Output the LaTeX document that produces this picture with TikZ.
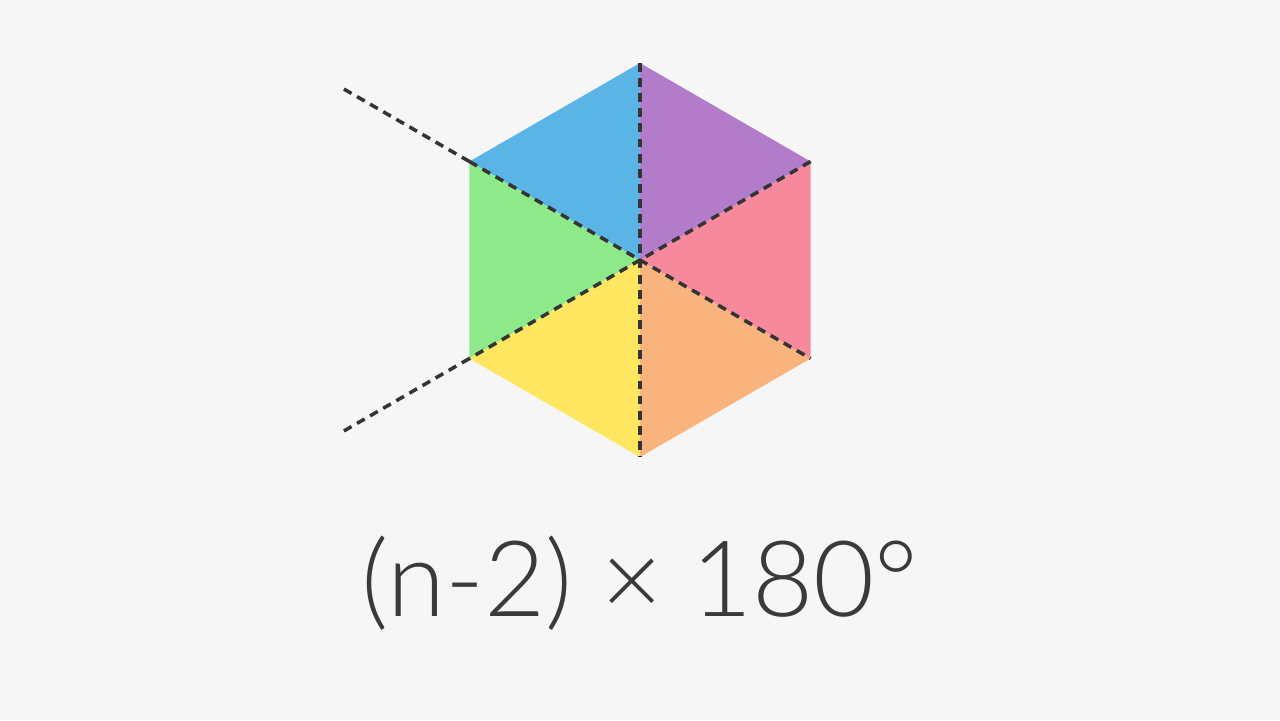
\documentclass[tikz,border=0pt]{standalone}
\usepackage{fontspec}
\setmainfont{Lato}[UprightFont=* Light]
\usetikzlibrary{positioning}

\definecolor{bgcol}{HTML}{F6F6F6}
\definecolor{hexblue}{HTML}{5BB4E6}
\definecolor{hexgreen}{HTML}{8EE98A}
\definecolor{hexyellow}{HTML}{FEE661}
\definecolor{hexorange}{HTML}{F8B47C}
\definecolor{hexpink}{HTML}{F68A9C}
\definecolor{hexpurple}{HTML}{B27CCA}
\definecolor{inkcol}{HTML}{3A3A3A}

\tikzset{
    dashline/.style={draw=inkcol!90!black, line width=1pt, dash pattern=on 2.5pt off 1.8pt},
    formula/.style={anchor=base, inner sep=0pt, text=inkcol, font=\fontsize{30}{30}\selectfont}
}

\begin{document}
\begin{tikzpicture}[x=0.01cm,y=0.01cm]
    \fill[bgcol] (0,0) rectangle (1280,720);
    \coordinate (c) at (640,460);

    \foreach \k in {0,...,5}{
        \path (c) ++(90+60*\k:197) coordinate (v\k);
    }
    \foreach \k/\col in {0/hexblue,1/hexgreen,2/hexyellow,3/hexorange,4/hexpink,5/hexpurple}{
        \pgfmathtruncatemacro{\nxt}{mod(\k+1,6)}
        \fill[\col] (c) -- (v\k) -- (v\nxt) -- cycle;
    }

    % lines through the centre
    \draw[dashline] (v0) -- (v3);
    \draw[dashline] (v1) -- (v4);
    \draw[dashline] (v5) -- (v2);

    % outer extensions
    \path (c) ++(150:346) coordinate (e1);
    \path (c) ++(210:346) coordinate (e2);
    \draw[dashline] (v1) -- (e1);
    \draw[dashline] (v2) -- (e2);

    \draw (640,104) node[formula] (rule) {(n-2) × 180°};
\end{tikzpicture}
\end{document}
